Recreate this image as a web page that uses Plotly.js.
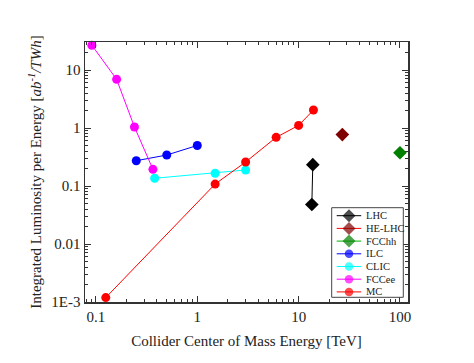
<!DOCTYPE html>
<html><head><meta charset="utf-8">
<script src="https://cdn.plot.ly/plotly-3.0.1.min.js"></script>
<style>body{margin:0;padding:0;background:#fff}#chart{width:474px;height:363px}</style>
</head><body><div id="chart"></div>
<script>
// Series names and colors
const names = ["LHC","HE-LHC","FCChh","ILC","CLIC","FCCee","MC"];
const colors = ["#000000","#7f0000","#007f00","#0000ff","#00ffff","#ff00ff","#ff0000"];
const lineColors = ["#000000","#ff0000","#00b000","#0000ff","#00ffff","#ff00ff","#ff0000"];
const symbols = ["diamond","diamond","diamond","circle","circle","circle","circle"];

// Data (energy in TeV, luminosity per energy in ab^-1/TWh)
const lhcX = [13.8, 13.5];
const lhcY = [0.233, 0.048];
const helhcX = [27];
const helhcY = [0.77];
const fcchhX = [100];
const fcchhY = [0.375];
const ilcX = [0.25, 0.5, 1.0];
const ilcY = [0.273, 0.342, 0.50];
const clicX = [0.38, 1.5, 3.0];
const clicY = [0.136, 0.166, 0.189];
const fcceeX = [0.0912, 0.16, 0.24, 0.365];
const fcceeY = [26.7, 6.9, 1.04, 0.194];
const mcX = [0.125, 1.5, 3.0, 6.0, 10.0, 14.0];
const mcY = [0.00119, 0.108, 0.259, 0.69, 1.11, 2.04];

const xTickVals = [0.1, 1, 10, 100];
const xTickText = ["0.1", "1", "10", "100"];
const yTickVals = [0.001, 0.01, 0.1, 1, 10];
const yTickText = ["1E-3", "0.01", "0.1", "1", "10"];

const seriesX = [lhcX, helhcX, fcchhX, ilcX, clicX, fcceeX, mcX];
const seriesY = [lhcY, helhcY, fcchhY, ilcY, clicY, fcceeY, mcY];

const FONT = "Liberation Serif, Times New Roman, serif";
const traces = [];
seriesX.forEach((xs, i) => {
  traces.push({
    x: xs, y: seriesY[i], type: "scatter", mode: "lines+markers",
    name: names[i], showlegend: false, cliponaxis: false,
    line: {color: colors[i], width: 1},
    marker: {symbol: symbols[i], size: symbols[i] === "diamond" ? 10.5 : 9, color: colors[i], line: {width: 0}}
  });
});

// Custom legend drawn on an overlay axis (pixel-like units)
const annotations = [];
const rowGap = 12.7, rowTop = 8;
names.forEach((n, i) => {
  const yy = rowTop + rowGap * i;
  traces.push({
    x: [5, 17.3, 29.5], y: [yy, yy, yy], xaxis: "x2", yaxis: "y2",
    type: "scatter", mode: "lines+markers", showlegend: false, hoverinfo: "skip",
    cliponaxis: false,
    line: {color: lineColors[i], width: 1},
    marker: {symbol: symbols[i], size: [0, symbols[i] === "diamond" ? 10 : 8.5, 0], color: colors[i], line: {width: 0}}
  });
  annotations.push({
    x: 32.5, y: yy, xref: "x2", yref: "y2", text: n, showarrow: false,
    xanchor: "left", yanchor: "middle", font: {family: FONT, size: 10.5, color: "#222"}
  });
});

const layout = {
  width: 474, height: 363,
  margin: {l: 85, r: 66, t: 42, b: 61},
  paper_bgcolor: "#fff", plot_bgcolor: "#fff",
  font: {family: FONT, color: "#222"},
  showlegend: false,
  xaxis: {
    type: "log", range: [Math.log10(0.078), Math.log10(120)],
    tickvals: xTickVals, ticktext: xTickText,
    ticks: "inside", ticklen: 6, tickwidth: 1, tickcolor: "#333",
    minor: {ticks: "inside", ticklen: 3, tickcolor: "#333", dtick: "D1", showgrid: false},
    showline: true, linecolor: "#333", linewidth: 1.5, mirror: "ticks",
    showgrid: false, zeroline: false,
    tickfont: {family: FONT, size: 15, color: "#222"},
    title: {text: "Collider Center of Mass Energy [TeV]", font: {family: FONT, size: 15, color: "#222"}, standoff: 12}
  },
  yaxis: {
    type: "log", range: [-3, Math.log10(30.4)],
    tickvals: yTickVals, ticktext: yTickText,
    ticks: "inside", ticklen: 6, tickwidth: 1, tickcolor: "#333",
    minor: {ticks: "inside", ticklen: 3, tickcolor: "#333", dtick: "D1", showgrid: false},
    showline: true, linecolor: "#333", linewidth: 1.5, mirror: "ticks",
    showgrid: false, zeroline: false,
    tickfont: {family: FONT, size: 15, color: "#222"},
    title: {text: "Integrated Luminosity per Energy [<i>ab<sup>-1</sup>/TWh</i>]", font: {family: FONT, size: 15, color: "#222"}, standoff: 6}
  },
  xaxis2: {domain: [(331.7-85)/323, (403.3-85)/323], range: [0, 71.6], visible: false, anchor: "y2", fixedrange: true},
  yaxis2: {domain: [(302-297.3)/260, (302-207.7)/260], range: [89.6, 0], visible: false, anchor: "x2", fixedrange: true},
  shapes: [{type: "rect", xref: "x2 domain", yref: "y2 domain", x0: 0, x1: 1, y0: 0, y1: 1,
            line: {color: "#444", width: 1}, fillcolor: "rgba(0,0,0,0)"}],
  annotations: annotations
};

Plotly.newPlot("chart", traces, layout, {displayModeBar: false, staticPlot: true});
</script></body></html>
